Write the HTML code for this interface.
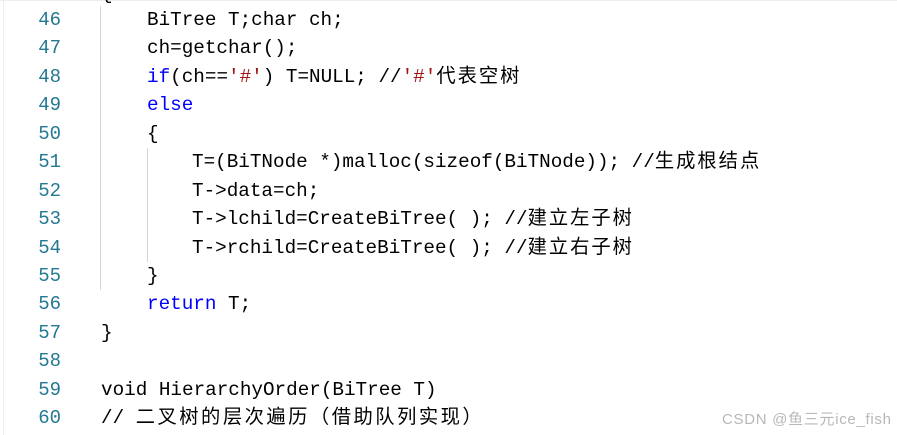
<!DOCTYPE html>
<html><head><meta charset="utf-8"><style>
html,body{margin:0;padding:0;background:#fff;}
body{width:897px;height:435px;position:relative;overflow:hidden;}
.ln{position:absolute;left:0;width:61px;text-align:right;font-family:"Liberation Mono",monospace;font-size:19px;color:#237893;line-height:28px;}
.c{position:absolute;font-family:"Liberation Mono","Noto Sans CJK SC",monospace;font-size:19.3px;color:#000;line-height:28px;white-space:pre;}
.k{color:#0000ff}.s{color:#a31515}
.z{letter-spacing:2px}
.g{position:absolute;width:1px;background:#d6d6d6;}
</style></head><body>
<div style="position:absolute;left:0;top:0;width:897px;height:1px;background:#eee"></div>
<div style="position:absolute;left:3px;top:0;width:1px;height:435px;background:#eee"></div>
<div class="c" style="left:101px;top:-20px">{</div>
<div class="g" style="left:100px;top:6px;height:284px"></div>
<div class="g" style="left:147px;top:148px;height:114px"></div>

<div class="ln" style="top:6px">46</div><div class="c" style="left:147px;top:6px">BiTree T;char ch;</div>
<div class="ln" style="top:34px">47</div><div class="c" style="left:147px;top:34px">ch=getchar();</div>
<div class="ln" style="top:63px">48</div><div class="c" style="left:147px;top:63px"><span class="k">if</span>(ch==<span class="s">'#'</span>) T=NULL; //<span class="s">'#'</span><span class="z">代表空树</span></div>
<div class="ln" style="top:91px">49</div><div class="c" style="left:147px;top:91px"><span class="k">else</span></div>
<div class="ln" style="top:120px">50</div><div class="c" style="left:147px;top:120px">{</div>
<div class="ln" style="top:148px">51</div><div class="c" style="left:192px;top:148px">T=(BiTNode *)malloc(sizeof(BiTNode)); //<span class="z">生成根结点</span></div>
<div class="ln" style="top:177px">52</div><div class="c" style="left:192px;top:177px">T-&gt;data=ch;</div>
<div class="ln" style="top:205px">53</div><div class="c" style="left:192px;top:205px">T-&gt;lchild=CreateBiTree( ); //<span class="z">建立左子树</span></div>
<div class="ln" style="top:234px">54</div><div class="c" style="left:192px;top:234px">T-&gt;rchild=CreateBiTree( ); //<span class="z">建立右子树</span></div>
<div class="ln" style="top:262px">55</div><div class="c" style="left:147px;top:262px">}</div>
<div class="ln" style="top:290px">56</div><div class="c" style="left:147px;top:290px"><span class="k">return</span> T;</div>
<div class="ln" style="top:319px">57</div><div class="c" style="left:101px;top:319px">}</div>
<div class="ln" style="top:347px">58</div>
<div class="ln" style="top:376px">59</div><div class="c" style="left:101px;top:376px">void HierarchyOrder(BiTree T)</div>
<div class="ln" style="top:404px">60</div><div class="c" style="left:101px;top:404px">// <span class="z" style="letter-spacing:2.5px">二叉树的层次遍历（借助队列实现）</span></div>

<div style="position:absolute;left:722px;top:408px;font-family:'Liberation Sans','Noto Sans CJK SC',sans-serif;font-size:15px;letter-spacing:0.7px;color:#b8b8b8;white-space:nowrap">CSDN @鱼三元ice_fish</div>
</body></html>
